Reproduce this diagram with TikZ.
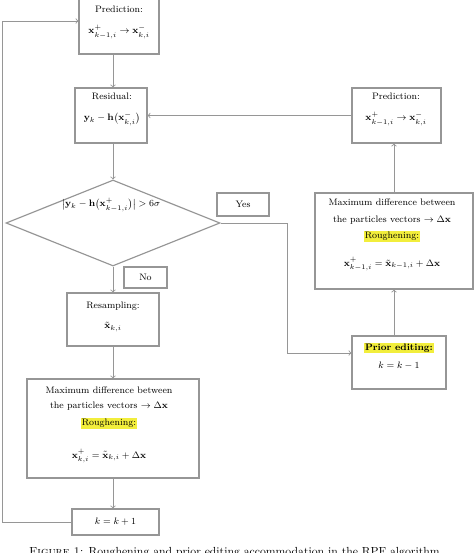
\documentclass[tikz,border=0pt]{standalone}
\usepackage{amsmath}
\usepackage{tikz}
\usetikzlibrary{positioning,calc,shapes}

\definecolor{linegray}{RGB}{150,150,150}
\definecolor{hlyellow}{RGB}{242,238,60}
\newcommand{\hlbox}[1]{{\setlength{\fboxsep}{1pt}\colorbox{hlyellow}{#1}}}

\begin{document}
\begin{tikzpicture}[x=0.03cm,y=0.03cm,font=\footnotesize]
	\tikzset{box/.style={draw=linegray, line width=1pt, inner sep=0pt},
		con/.style={draw=linegray, line width=0.7pt, ->},
		txt/.style={align=center, inner sep=0pt}}
	\useasboundingbox (0,0) rectangle (474,-553);
	% left column
	\node[box,minimum width=2.4cm,minimum height=1.68cm] (pred1) at (119,-26) {};
	\node[txt] (pred1-txt) at (119,-22.5) {Prediction:\\[8.4pt]$\mathbf{x}^{+}_{k-1,i}\rightarrow\mathbf{x}^{-}_{k,i}$};
	\node[box,minimum width=2.16cm,minimum height=1.65cm] (res) at (111,-115.5) {};
	\node[txt] (res-txt) at (112,-109.5) {Residual:\\[8.4pt]$\mathbf{y}_k-\mathbf{h}\bigl(\mathbf{x}^{-}_{k,i}\bigr)$};
	\node[box,diamond,minimum width=6.42cm,minimum height=2.58cm] (diam) at (113,-223) {};
	\node[txt] (diam-txt) at (111,-205) {$\bigl|\mathbf{y}_k-\mathbf{h}\bigl(\mathbf{x}^{+}_{k-1,i}\bigr)\bigr|>6\sigma$};
	\node[box,minimum width=1.56cm,minimum height=0.69cm] (yes) at (243,-204.5) {Yes};
	\node[box,minimum width=1.29cm,minimum height=0.63cm] (no) at (145.5,-277.5) {No};
	\node[box,minimum width=2.76cm,minimum height=1.59cm] (resamp) at (113,-319.5) {};
	\node[txt] (resamp-txt) at (113,-317) {Resampling:\\[7.5pt]$\tilde{\mathbf{x}}_{k,i}$};
	\node[box,minimum width=5.16cm,minimum height=2.97cm] (maxL) at (113,-428.5) {};
	\node[txt] (maxL-txt) at (109,-425) {Maximum difference between\\[3.3pt]the particles vectors $\rightarrow\Delta\mathbf{x}$\\[5pt]\hlbox{Roughening:}\\[16.5pt]$\mathbf{x}^{+}_{k,i}=\tilde{\mathbf{x}}_{k,i}+\Delta\mathbf{x}$};
	\node[box,minimum width=2.61cm,minimum height=0.78cm] (kbox) at (115.5,-522) {$k=k+1$};
	% right column
	\node[box,minimum width=2.67cm,minimum height=1.65cm] (pred2) at (396.5,-115.5) {};
	\node[txt] (pred2-txt) at (396,-109.5) {Prediction:\\[8.4pt]$\mathbf{x}^{+}_{k-1,i}\rightarrow\mathbf{x}^{-}_{k,i}$};
	\node[box,minimum width=4.74cm,minimum height=2.88cm] (maxR) at (394,-241) {};
	\node[txt] (maxR-txt) at (392,-235) {Maximum difference between\\[5pt]the particles vectors $\rightarrow\Delta\mathbf{x}$\\[4pt]\hlbox{Roughening:}\\[12.5pt]$\mathbf{x}^{+}_{k-1,i}=\tilde{\mathbf{x}}_{k-1,i}+\Delta\mathbf{x}$};
	\node[box,minimum width=2.82cm,minimum height=1.59cm] (prior) at (399,-362.5) {};
	\node[txt] (prior-txt) at (399,-356) {\hlbox{\textbf{Prior editing:}}\\[5.8pt]$k=k-1$};
	% loop corners
	\coordinate (loop) at (2,-21);
	\coordinate (yesbend) at (287,-223);
	% connectors
	\draw[con] (pred1.south -| diam.north) -- (res.north -| diam.north);
	\draw[con] (res.south -| diam.north) -- (diam.north);
	\draw[con] (diam.south) -- (resamp.north);
	\draw[con] (resamp.south) -- (maxL.north);
	\draw[con] (maxL.south) -- (kbox.north -| maxL.south);
	\draw[con] (kbox.west) -- (kbox.west -| loop) -- (loop) -- (pred1.west |- loop);
	\draw[con] (diam.east) -- (yesbend) |- ([yshift=0.285cm]prior.west);
	\draw[con] (prior.north -| maxR.north) -- (maxR.south);
	\draw[con] (maxR.north) -- (pred2.south -| maxR.north);
	\draw[con] (pred2.west) -- (res.east);
	% caption
	\node[txt,font=\normalsize] (caption) at (236,-553) {\textsc{Figure 1}: Roughening and prior editing accommodation in the RPF algorithm.};
\end{tikzpicture}
\end{document}
